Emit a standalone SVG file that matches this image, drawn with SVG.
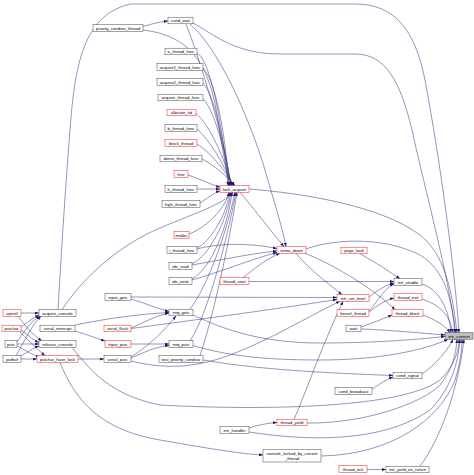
<svg xmlns="http://www.w3.org/2000/svg" width="474" height="475" viewBox="0 0 474 475">
<defs>
<marker id="a" markerUnits="userSpaceOnUse" markerWidth="4" markerHeight="3" viewBox="0 0 8 6" refX="8" refY="3" orient="auto"><path d="M0,0 L8,3 L0,6 z" fill="#191970"/></marker>
<style>
.n rect{fill:#fff;stroke:#333;stroke-width:0.45}
.r rect{stroke:#f00}
.g rect{fill:#bfbfbf}
text{font-family:"Liberation Sans",Arial,sans-serif;font-size:4.2px;text-anchor:middle;fill:#000}
#edges path{fill:none;stroke:#2a2a7a;stroke-width:0.5;marker-end:url(#a)}
</style>
</defs>
<rect width="474" height="475" fill="#fff"/>
<g id="edges">
<path d="M143,26.5 C152,24 158,22 168,21"/>
<path d="M143,30 C195,36 210,70 218,120 C222,150 227,170 229,185.7"/>
<path d="M186,24 C200,60 225,140 231,185.7"/>
<path d="M190,24 C220,50 250,120 265,170 C275,205 283,230 286,246.7"/>
<path d="M193,23 C215,35 235,54 280,54 L355,54 C385,54 400,80 412,130 C425,190 450,280 455,332.7"/>
<path d="M58,309.7 C62,240 66,180 70,130 C75,60 85,15 130,4 L355,4 C395,4 415,30 425,80 C440,160 455,270 459,332.7"/>
<path d="M197,53 C210,60 222,120 228,185.7"/>
<path d="M203,68 C215,80 225,130 229,185.7"/>
<path d="M203,83 C214,95 224,140 230,185.7"/>
<path d="M203,98.5 C214,110 225,150 231,185.7"/>
<path d="M196,113.5 C210,125 225,160 232,185.7"/>
<path d="M197,129 C210,140 224,165 233,185.7"/>
<path d="M197,144 C210,152 225,170 234,185.7"/>
<path d="M202,159 C212,164 226,175 235,185.7"/>
<path d="M188,175 C200,179 210,184 220,187.3"/>
<path d="M197,189 L220,189"/>
<path d="M200,203 C208,198 214,193 220,190.8"/>
<path d="M189,234 C205,228 225,210 229,192.3"/>
<path d="M197,248 C212,240 226,215 230,192.3"/>
<path d="M192,264 C210,255 227,220 231,192.3"/>
<path d="M192,279 C212,268 228,225 232,192.3"/>
<path d="M62,309.7 C85,275 120,245 160,228 C195,213 222,205 233,192.3"/>
<path d="M190,309.2 C205,290 225,240 235,192.3"/>
<path d="M190,340.7 C205,320 225,250 236,192.3"/>
<path d="M200,355.7 C212,320 228,250 237,192.3"/>
<path d="M240,192.3 C255,210 270,230 284,246.7"/>
<path d="M249,189 C300,193 380,205 420,235 C445,255 452,290 457,332.7"/>
<path d="M306,249 C330,240 380,235 420,255 C445,270 452,300 455.5,332.7"/>
<path d="M296,253.3 C310,270 330,285 342,294.7"/>
<path d="M305,253.3 C335,265 375,290 395,309.7"/>
<path d="M197,249 C215,244 245,242 277,248.5"/>
<path d="M192,265 C220,260 255,253 277,251"/>
<path d="M192,280 C220,272 255,258 277,252.5"/>
<path d="M243,277.7 C255,268 268,258 280,253.3"/>
<path d="M249,281.5 L394,281.5"/>
<path d="M360,253.8 C375,262 390,272 400,278.7"/>
<path d="M369,297 C378,290 386,285 394,283"/>
<path d="M369,311 C380,298 386,287 394,284"/>
<path d="M369,312 C378,305 386,300 394,298"/>
<path d="M361,327 C375,322 385,318 392,315"/>
<path d="M361,329 C390,330 420,333 445,335"/>
<path d="M423,315 C435,320 445,325 450,332.7"/>
<path d="M422,299 C440,305 450,315 453,332.7"/>
<path d="M422,284 C440,290 449,310 451,332.7"/>
<path d="M131,299 C145,303 155,308 169,311.5"/>
<path d="M131,297 L337,297.5"/>
<path d="M131,328 C145,322 155,316 169,313"/>
<path d="M131,328.5 C180,322 270,310 337,299.5"/>
<path d="M75,325 C110,318 140,314 169,312.5"/>
<path d="M75,331 C88,335 96,338 105,341"/>
<path d="M131,344 L169,344"/>
<path d="M131,357 C150,345 165,330 176,315.8"/>
<path d="M131,358 C145,352 155,347 169,345.5"/>
<path d="M131,361 C160,368 190,370 230,355 C270,340 305,318 340,301.3"/>
<path d="M193,315 C225,330 262,343 320,343 C380,343 420,339 445,336.5"/>
<path d="M193,345.5 C225,355 260,360 320,360 C380,360 425,350 448,339.3"/>
<path d="M422,374 C435,365 448,350 453,339.3"/>
<path d="M372,389 C380,384 385,380 393,377"/>
<path d="M203,360 C250,368 300,372 393,375.5"/>
<path d="M307,423 C360,424 420,405 440,385 C452,370 456,355 457,339.3"/>
<path d="M294,419.2 C305,395 320,350 343,301.3"/>
<path d="M249,428 C258,425 268,423 277,422.5"/>
<path d="M249,432 C300,440 380,445 430,410 C450,390 458,365 460,339.3"/>
<path d="M321,456 C390,455 440,420 455,380 C460,365 462,350 462,339.3"/>
<path d="M60,362.3 C75,400 100,430 160,440 C200,447 240,454 263,455"/>
<path d="M78,359 L104,359"/>
<path d="M72,347.3 C90,370 110,395 160,405 C250,410 400,410 440,380 C455,365 459,350 459,339.3"/>
<path d="M420,466.2 C440,440 458,390 464,339.3"/>
<path d="M367,469.5 L386,469.5"/>
<path d="M21,313 L39,313"/>
<path d="M18,316.3 C25,325 32,335 42,340.7"/>
<path d="M21,327 C28,322 33,318 39,315"/>
<path d="M20,331.8 C28,340 36,348 45,355.7"/>
<path d="M21,330 C28,335 33,340 39,342.5"/>
<path d="M17,342 C25,330 32,320 40,316.3"/>
<path d="M17,344 L39,344"/>
<path d="M17,346 C25,350 32,355 40,357"/>
<path d="M16,355.7 C25,340 32,325 41,316.3"/>
<path d="M21,356 C28,352 33,348 39,346"/>
<path d="M21,359 L37,359"/>
</g>
<g id="n_vprintf" class="n r"><rect x="3" y="309.7" width="18" height="6.6"/><text x="12" y="314.5">vprintf</text></g>
<g id="n_putchar" class="n r"><rect x="2" y="325.2" width="19" height="6.6"/><text x="11.5" y="330">putchar</text></g>
<g id="n_puts" class="n"><rect x="5" y="340.7" width="12" height="6.6"/><text x="11" y="345.5">puts</text></g>
<g id="n_putbuf" class="n"><rect x="3" y="355.7" width="18" height="6.6"/><text x="12" y="360.5">putbuf</text></g>
<g id="n_acquire_console" class="n"><rect x="39" y="309.7" width="37" height="6.6"/><text x="57.5" y="314.5">acquire_console</text></g>
<g id="n_serial_interrupt" class="n"><rect x="40" y="325.2" width="35" height="6.6"/><text x="57.5" y="330">serial_interrupt</text></g>
<g id="n_release_console" class="n"><rect x="39" y="340.7" width="37" height="6.6"/><text x="57.5" y="345.5">release_console</text></g>
<g id="n_putchar_have_lock" class="n r"><rect x="37" y="355.7" width="41" height="6.6"/><text x="57.5" y="360.5">putchar_have_lock</text></g>
<g id="n_priority_condvar_thread" class="n"><rect x="93" y="24.7" width="50" height="6.6"/><text x="118" y="29.5">priority_condvar_thread</text></g>
<g id="n_input_getc" class="n"><rect x="105" y="293.7" width="26" height="6.6"/><text x="118" y="298.5">input_getc</text></g>
<g id="n_serial_flush" class="n r"><rect x="104" y="325.2" width="27" height="6.6"/><text x="117.5" y="330">serial_flush</text></g>
<g id="n_input_putc" class="n r"><rect x="105" y="340.7" width="26" height="6.6"/><text x="118" y="345.5">input_putc</text></g>
<g id="n_serial_putc" class="n"><rect x="104" y="355.7" width="27" height="6.6"/><text x="117.5" y="360.5">serial_putc</text></g>
<g id="n_cond_wait" class="n"><rect x="168" y="17.2" width="25" height="6.6"/><text x="180.5" y="22">cond_wait</text></g>
<g id="n_a_thread_func" class="n"><rect x="165" y="48.2" width="32" height="6.6"/><text x="181" y="53">a_thread_func</text></g>
<g id="n_acquire1_thread_func" class="n"><rect x="157" y="63.7" width="46" height="6.6"/><text x="180" y="68.5">acquire1_thread_func</text></g>
<g id="n_acquire2_thread_func" class="n"><rect x="157" y="78.7" width="46" height="6.6"/><text x="180" y="83.5">acquire2_thread_func</text></g>
<g id="n_acquire_thread_func" class="n"><rect x="158" y="94.2" width="45" height="6.6"/><text x="180.5" y="99">acquire_thread_func</text></g>
<g id="n_allocate_tid" class="n r"><rect x="167" y="109.2" width="29" height="6.6"/><text x="181.5" y="114">allocate_tid</text></g>
<g id="n_b_thread_func" class="n"><rect x="165" y="124.7" width="32" height="6.6"/><text x="181" y="129.5">b_thread_func</text></g>
<g id="n_block_thread" class="n r"><rect x="165" y="139.7" width="32" height="6.6"/><text x="181" y="144.5">block_thread</text></g>
<g id="n_donor_thread_func" class="n"><rect x="160" y="155.2" width="42" height="6.6"/><text x="181" y="160">donor_thread_func</text></g>
<g id="n_free" class="n r"><rect x="174" y="170.7" width="14" height="6.6"/><text x="181" y="175.5">free</text></g>
<g id="n_h_thread_func" class="n"><rect x="165" y="185.7" width="32" height="6.6"/><text x="181" y="190.5">h_thread_func</text></g>
<g id="n_high_thread_func" class="n"><rect x="162" y="200.7" width="38" height="6.6"/><text x="181" y="205.5">high_thread_func</text></g>
<g id="n_malloc" class="n r"><rect x="174" y="231.7" width="15" height="6.6"/><text x="181.5" y="236.5">malloc</text></g>
<g id="n_i_thread_func" class="n"><rect x="167" y="246.7" width="30" height="6.6"/><text x="182" y="251.5">i_thread_func</text></g>
<g id="n_ide_read" class="n"><rect x="169" y="262.7" width="23" height="6.6"/><text x="180.5" y="267.5">ide_read</text></g>
<g id="n_ide_write" class="n"><rect x="169" y="277.7" width="23" height="6.6"/><text x="180.5" y="282.5">ide_write</text></g>
<g id="n_intq_getc" class="n"><rect x="169" y="309.2" width="24" height="6.6"/><text x="181" y="314">intq_getc</text></g>
<g id="n_intq_putc" class="n"><rect x="169" y="340.7" width="24" height="6.6"/><text x="181" y="345.5">intq_putc</text></g>
<g id="n_test_priority_condvar" class="n"><rect x="159" y="355.7" width="44" height="6.6"/><text x="181" y="360.5">test_priority_condvar</text></g>
<g id="n_lock_acquire" class="n r"><rect x="220" y="185.7" width="29" height="6.6"/><text x="234.5" y="190.5">lock_acquire</text></g>
<g id="n_thread_start" class="n r"><rect x="220" y="277.7" width="29" height="6.6"/><text x="234.5" y="282.5">thread_start</text></g>
<g id="n_intr_handler" class="n"><rect x="220" y="426.7" width="29" height="6.6"/><text x="234.5" y="431.5">intr_handler</text></g>
<g id="n_sema_down" class="n r"><rect x="277" y="246.7" width="29" height="6.6"/><text x="291.5" y="251.5">sema_down</text></g>
<g id="n_thread_yield" class="n r"><rect x="277" y="419.2" width="30" height="6.6"/><text x="292" y="424">thread_yield</text></g>
<g id="n_console_locked_by_current_thread" class="n"><rect x="263" y="449.5" width="58" height="12.5"/><text x="292" y="454.5">console_locked_by_current</text><text x="292" y="459.8">_thread</text></g>
<g id="n_page_fault" class="n r"><rect x="341" y="247.2" width="26" height="6.6"/><text x="354" y="252">page_fault</text></g>
<g id="n_intr_set_level" class="n r"><rect x="337" y="294.7" width="32" height="6.6"/><text x="353" y="299.5">intr_set_level</text></g>
<g id="n_kernel_thread" class="n r"><rect x="337" y="309.7" width="32" height="6.6"/><text x="353" y="314.5">kernel_thread</text></g>
<g id="n_wait" class="n"><rect x="346" y="325.2" width="15" height="6.6"/><text x="353.5" y="330">wait</text></g>
<g id="n_cond_broadcast" class="n"><rect x="335" y="387.7" width="37" height="6.6"/><text x="353.5" y="392.5">cond_broadcast</text></g>
<g id="n_thread_tick" class="n r"><rect x="339" y="465.7" width="28" height="6.6"/><text x="353" y="470.5">thread_tick</text></g>
<g id="n_intr_enable" class="n"><rect x="394" y="278.7" width="28" height="6.6"/><text x="408" y="283.5">intr_enable</text></g>
<g id="n_thread_exit" class="n r"><rect x="394" y="293.7" width="28" height="6.6"/><text x="408" y="298.5">thread_exit</text></g>
<g id="n_thread_block" class="n r"><rect x="392" y="309.7" width="31" height="6.6"/><text x="407.5" y="314.5">thread_block</text></g>
<g id="n_cond_signal" class="n"><rect x="393" y="372.2" width="29" height="6.6"/><text x="407.5" y="377">cond_signal</text></g>
<g id="n_intr_yield_on_return" class="n"><rect x="386" y="466.2" width="43" height="6.6"/><text x="407.5" y="471">intr_yield_on_return</text></g>
<g id="n_intr_context" class="n g"><rect x="445" y="332.7" width="28" height="6.6"/><text x="459" y="337.5">intr_context</text></g>
</svg>
